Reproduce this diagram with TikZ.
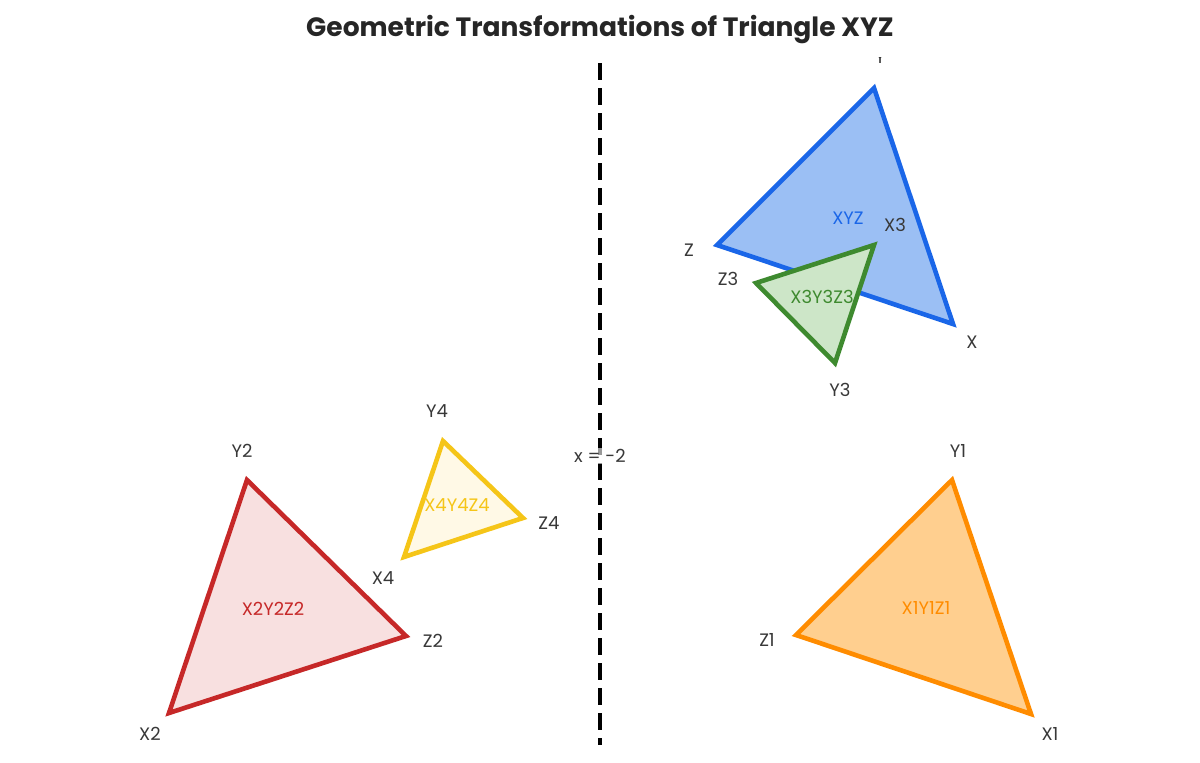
\documentclass[tikz,border=0pt]{standalone}
\usepackage{fontspec}
\setmainfont{Poppins}
\begin{document}
\begin{tikzpicture}[x=1pt,y=-1pt,
  tri/.style={line width=4.6pt,line join=miter},
  vlab/.style={text=black!78,font=\fontsize{18}{20}\selectfont,inner sep=0pt},
  tlab/.style={font=\fontsize{18}{20}\selectfont,inner sep=0pt}]
\definecolor{bS}{HTML}{1A66E8}\definecolor{bF}{HTML}{9BBFF4}
\definecolor{gS}{HTML}{3E8A2F}\definecolor{gF}{HTML}{CDE6C8}
\definecolor{oS}{HTML}{FF8C00}\definecolor{oF}{HTML}{FFCF8F}
\definecolor{rS}{HTML}{C62828}\definecolor{rF}{HTML}{F8E0E0}
\definecolor{yS}{HTML}{F5C518}\definecolor{yF}{HTML}{FFF9E6}
\useasboundingbox (0,0) rectangle (1200,763);
\fill[white] (0,0) rectangle (1200,763);
\node[font=\fontsize{26.5}{30}\selectfont\bfseries,text=black!85] (title) at (600,30) {Geometric Transformations of Triangle XYZ};
% axis line
\coordinate (L1) at (600,63);
\coordinate (L2) at (600,745);
\draw[line width=4.5pt,dash pattern=on 17pt off 8pt] (L1) -- (L2);
\node[font=\fontsize{18}{20}\selectfont,fill=white,fill opacity=0.6,text opacity=1,text=black!78,inner sep=1pt] (axlab) at (600,456) {x = -2};
% blue XYZ
\coordinate (X) at (953,324);
\coordinate (Y) at (874,88);
\coordinate (Z) at (717,245);
\draw[tri,draw=bS,fill=bF] (X) -- (Y) -- (Z) -- cycle;
\node[tlab,text=bS] (lXYZ) at (848,218) {XYZ};
% green
\coordinate (X3) at (874,245);
\coordinate (Y3) at (835,363);
\coordinate (Z3) at (756,283);
\draw[tri,draw=gS,fill=gF] (X3) -- (Y3) -- (Z3) -- cycle;
\node[tlab,text=gS] (lX3) at (822,297) {X3Y3Z3};
% orange
\coordinate (X1) at (1031,714);
\coordinate (Y1) at (952,480);
\coordinate (Z1) at (796,635);
\draw[tri,draw=oS,fill=oF] (X1) -- (Y1) -- (Z1) -- cycle;
\node[tlab,text=oS] (lX1) at (926,608) {X1Y1Z1};
% red
\coordinate (X2) at (169,713);
\coordinate (Y2) at (247,480);
\coordinate (Z2) at (406,636);
\draw[tri,draw=rS,fill=rF] (X2) -- (Y2) -- (Z2) -- cycle;
\node[tlab,text=rS] (lX2) at (273,609) {X2Y2Z2};
% yellow
\coordinate (X4) at (404,557);
\coordinate (Y4) at (443,441);
\coordinate (Z4) at (523,518);
\draw[tri,draw=yS,fill=yF] (X4) -- (Y4) -- (Z4) -- cycle;
\node[tlab,text=yS] (lX4) at (457,505) {X4Y4Z4};
% vertex labels
\begin{scope}
\clip (840,57) rectangle (920,100);
\node[vlab] (nY) at (880,57.5) {Y};
\end{scope}
\node[vlab] (nZ) at (689,250) {Z};
\node[vlab] (nX) at (972,342) {X};
\node[vlab] (nX3) at (895,225) {X3};
\node[vlab] (nZ3) at (728,279) {Z3};
\node[vlab] (nY3) at (840,390) {Y3};
\node[vlab] (nY1) at (958,451) {Y1};
\node[vlab] (nZ1) at (767,640) {Z1};
\node[vlab] (nX1) at (1050,734) {X1};
\node[vlab] (nY2) at (242,451) {Y2};
\node[vlab] (nX2) at (150,734) {X2};
\node[vlab] (nZ2) at (433,641) {Z2};
\node[vlab] (nY4) at (437,411) {Y4};
\node[vlab] (nX4) at (383,578) {X4};
\node[vlab] (nZ4) at (549,523) {Z4};
\end{tikzpicture}
\end{document}
